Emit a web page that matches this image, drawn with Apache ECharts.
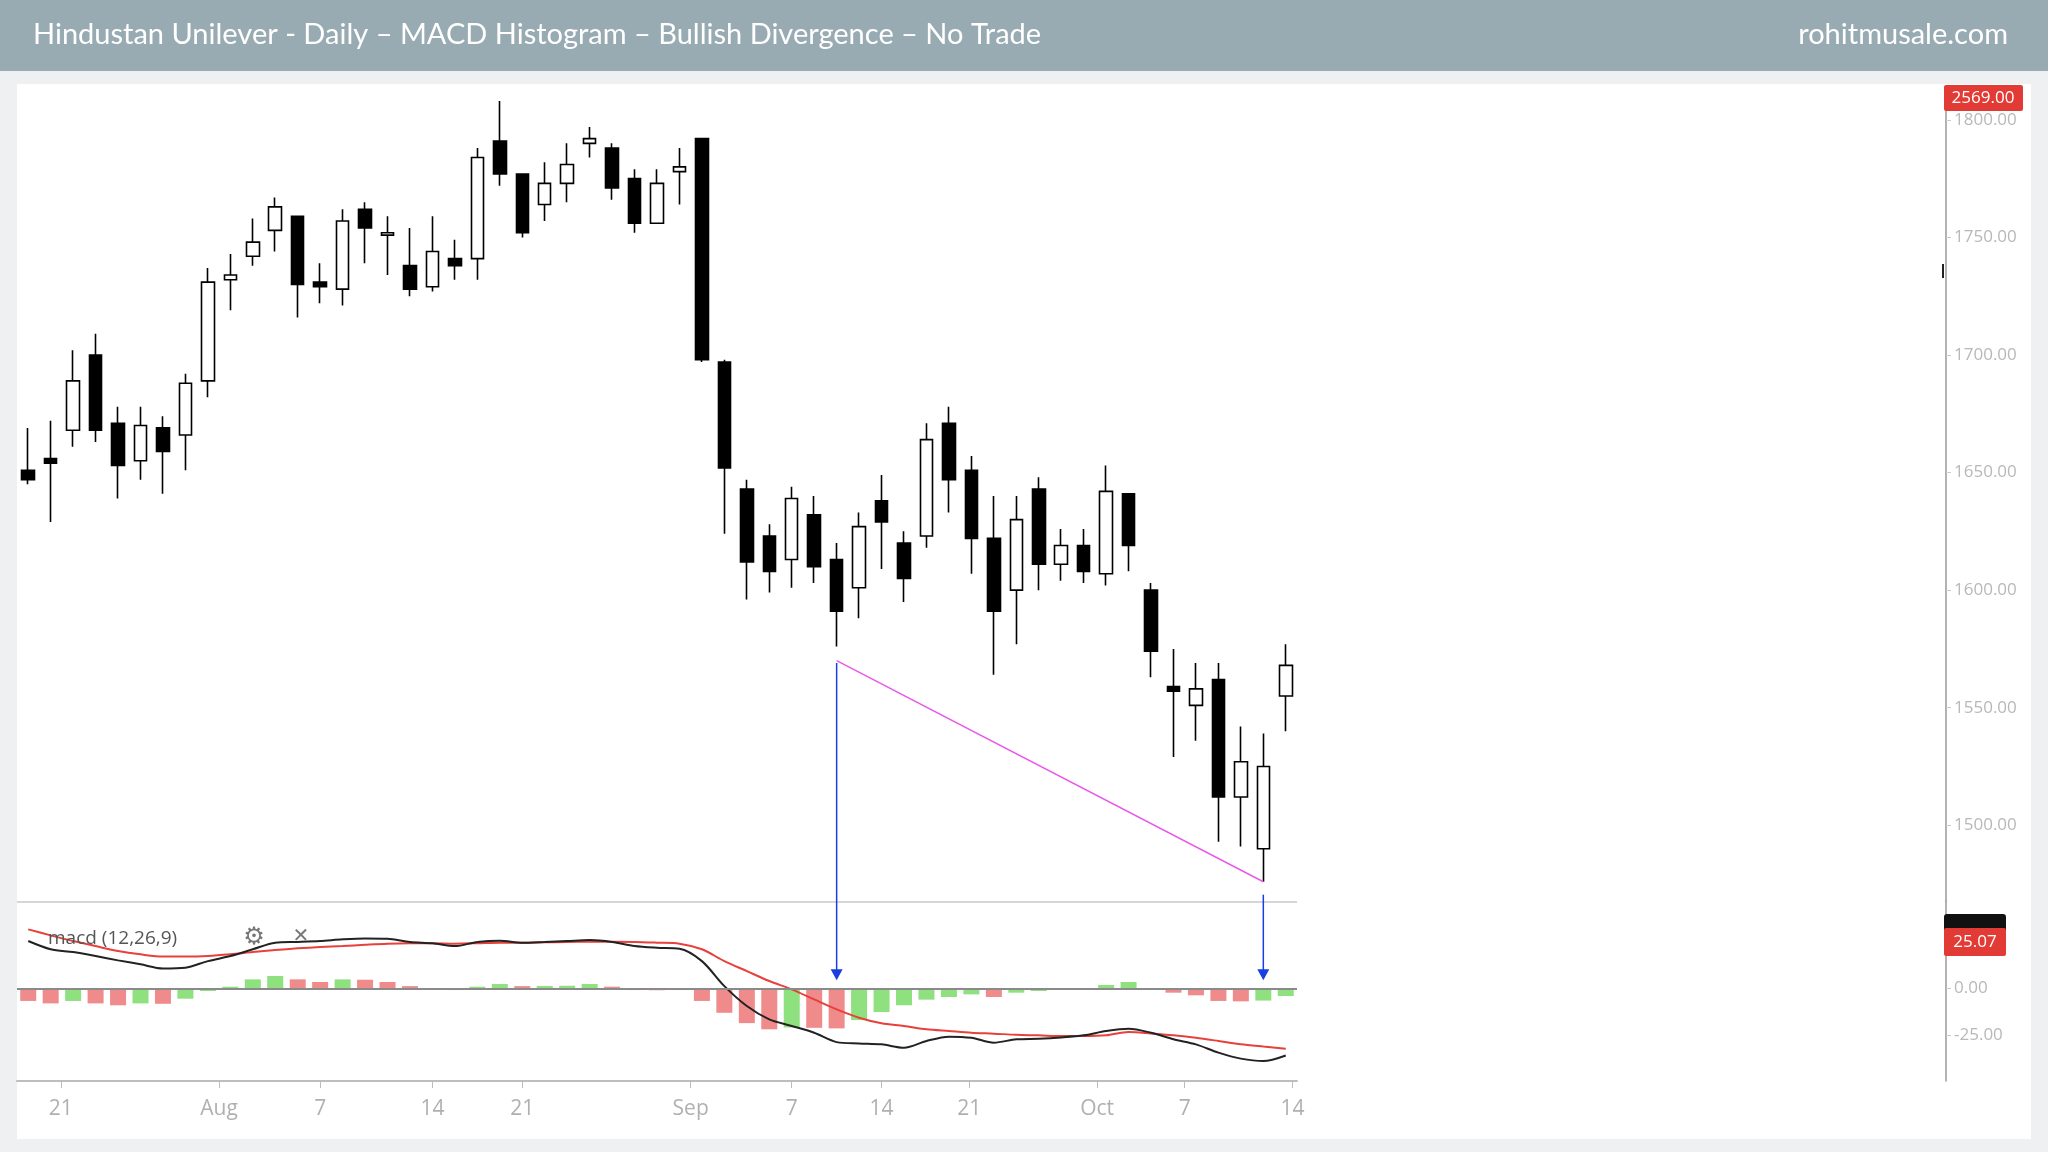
<!DOCTYPE html>
<html><head><meta charset="utf-8">
<script src="https://cdn.jsdelivr.net/npm/echarts@6/dist/echarts.min.js"></script>
<style>html,body{margin:0;padding:0;background:#eff0f2;}#c{width:2048px;height:1152px;}</style>
</head><body><div id="c"></div>
<script>
const opens  = [1651,1656,1668,1700,1671,1655,1669,1666,1689,1732,1742,1753,1759,1731,1728,1762,1751,1738,1729,1741,1741,1791,1777,1764,1773,1790,1788,1775,1756,1778,1792,1697,1643,1623,1613,1632,1613,1601,1638,1620,1623,1671,1651,1622,1600,1643,1611,1619,1607,1641,1600,1559,1551,1562,1512,1490,1555];
const closes = [1647,1654,1689,1668,1653,1670,1659,1688,1731,1734,1748,1763,1730,1729,1757,1754,1752,1728,1744,1738,1784,1777,1752,1773,1781,1792,1771,1756,1773,1780,1698,1652,1612,1608,1639,1610,1591,1627,1629,1605,1664,1647,1622,1591,1630,1611,1619,1608,1642,1619,1574,1557,1558,1512,1527,1525,1568];
const highs  = [1669,1672,1702,1709,1678,1678,1674,1692,1737,1743,1758,1767,1759,1739,1762,1765,1759,1754,1759,1749,1788,1808,1777,1782,1790,1797,1790,1779,1779,1788,1792,1698,1647,1628,1644,1640,1620,1633,1649,1625,1671,1678,1657,1640,1640,1648,1626,1626,1653,1641,1603,1575,1569,1569,1542,1539,1577];
const lows   = [1645,1629,1661,1663,1639,1647,1641,1651,1682,1719,1738,1744,1716,1722,1721,1739,1734,1725,1727,1732,1732,1772,1750,1757,1765,1784,1766,1752,1756,1764,1697,1624,1596,1599,1601,1603,1576,1588,1609,1595,1618,1633,1607,1564,1577,1600,1604,1603,1602,1608,1563,1529,1536,1493,1491,1476,1540];
const histVals = [-6.7,-8.0,-6.7,-8.0,-9.0,-8.0,-8.2,-5.5,-1.4,0.9,4.8,6.6,4.8,3.4,4.8,4.6,3.4,1.2,0.1,-0.9,0.9,2.3,1.2,1.3,1.4,2.3,0.9,-0.9,-1.0,-0.9,-6.7,-13.0,-18.5,-21.8,-20.8,-21.0,-21.3,-16.9,-12.6,-9.0,-6.0,-4.6,-3.2,-4.6,-2.3,-1.4,-0.2,-0.3,1.8,3.4,0.0,-2.3,-3.7,-6.7,-6.9,-6.5,-4.1];
const macdLine = [25.2,20.8,19.3,17.2,14.9,12.8,10.6,11.0,14.5,17.2,20.8,24.3,24.7,25.2,26.1,26.6,26.4,24.7,24.0,22.5,24.7,25.4,24.3,24.7,25.2,25.7,24.7,22.5,21.6,21.1,14.5,1.2,-9.4,-16.5,-20.0,-23.6,-28.6,-29.3,-29.8,-31.6,-28.0,-25.7,-26.3,-28.9,-27.1,-26.8,-26.1,-25.0,-22.7,-21.5,-23.6,-27.1,-29.8,-34.2,-37.4,-38.7,-35.7];
const signalLine = [31.4,28.2,25.2,22.5,19.9,18.1,16.9,16.9,17.2,18.1,19.3,20.4,21.3,22.0,22.5,23.2,23.8,24.0,24.0,23.8,24.0,24.3,24.3,24.5,24.7,24.8,24.8,24.7,24.3,23.8,20.8,14.5,9.2,3.9,-0.5,-5.9,-11.2,-15.6,-18.6,-20.0,-21.8,-22.7,-23.6,-24.1,-24.7,-25.0,-25.4,-25.4,-25.0,-23.2,-24.0,-25.0,-26.3,-28.0,-29.8,-31.0,-32.1];
const tickPos  = [1.45,8.5,13,18,22,29.5,34,38,41.9,47.6,51.5,56.3];
const tickText = ['21','Aug','7','14','21','Sep','7','14','21','Oct','7','14'];
const priceTicks = [1500,1550,1600,1650,1700,1750,1800];
const macdTicks = [0,-25];
const divergence = [[36,1570],[55,1476]];
const arrowTop = [[36,1569],[55,1470.5]];
const arrowBottomMacd = 4.9;

const cats = opens.map((_,i)=>String(i));
const ohlc = opens.map((o,i)=>[o,closes[i],lows[i],highs[i]]);
const histData = histVals.map((v,i)=>({value:v,itemStyle:{color:(i>0&&v>histVals[i-1])?'#8fe07f':'#f08b8b'}}));
const chart = echarts.init(document.getElementById('c'));
const option = {
  animation:false,
  backgroundColor:'#eff0f2',
  grid:[{left:17,width:1280,top:86,height:815},{left:17,width:1280,top:901,height:180}],
  xAxis:[
    {type:'category',data:cats,gridIndex:0,show:false,boundaryGap:true},
    {type:'category',data:cats,gridIndex:1,boundaryGap:true,axisLine:{show:false},axisTick:{show:false},axisLabel:{show:false}},
    {type:'value',gridIndex:1,min:-0.5,max:56.5,position:'bottom',splitLine:{show:false},
     axisLine:{show:true,onZero:false,lineStyle:{color:'#bdbdbd',width:2}},
     axisTick:{show:true,customValues:tickPos,length:7,lineStyle:{color:'#bdbdbd'}},
     axisLabel:{customValues:tickPos,color:'#b0b0b0',fontSize:21,fontFamily:'Open Sans',margin:18,
       formatter:v=>{const k=tickPos.findIndex(t=>Math.abs(t-v)<1e-6);return k>=0?tickText[k]:'';}}}
  ],
  yAxis:[
    {type:'value',gridIndex:0,min:1467.8,max:1814.4,position:'right',offset:649,splitLine:{show:false},
     axisLine:{show:true,onZero:false,lineStyle:{color:'#9a9a9a',width:1.5}},axisTick:{show:true,customValues:priceTicks,length:5,lineStyle:{color:'#ccc'}},
     axisLabel:{customValues:priceTicks,color:'#b8b8b8',fontSize:17,fontFamily:'Open Sans',margin:8,formatter:v=>v.toFixed(2)}},
    {type:'value',gridIndex:1,min:-49.3,max:46.5,position:'right',offset:649,splitLine:{show:false},
     axisLine:{show:true,onZero:false,lineStyle:{color:'#9a9a9a',width:1.5}},axisTick:{show:true,customValues:macdTicks,length:5,lineStyle:{color:'#ccc'}},
     axisLabel:{customValues:macdTicks,color:'#b8b8b8',fontSize:17,fontFamily:'Open Sans',margin:8,formatter:v=>v.toFixed(2)}}
  ],
  series:[
    {type:'candlestick',xAxisIndex:0,yAxisIndex:0,data:ohlc,barWidth:13,
     itemStyle:{color:'#ffffff',color0:'#000000',borderColor:'#000000',borderColor0:'#000000',borderWidth:1.6},
     markLine:{silent:true,symbol:'none',label:{show:false},lineStyle:{color:'#e85ae8',width:1.5,type:'solid'},
       data:[[{coord:divergence[0]},{coord:divergence[1]}]]}},
    {type:'bar',xAxisIndex:1,yAxisIndex:1,data:histData,barWidth:16,
     markLine:{silent:true,symbol:'none',label:{show:false},lineStyle:{color:'#8a8a8a',width:2,type:'solid'},data:[{yAxis:0}]}},
    {type:'line',xAxisIndex:1,yAxisIndex:1,data:signalLine,showSymbol:false,smooth:0.3,lineStyle:{color:'#e8403a',width:2}},
    {type:'line',xAxisIndex:1,yAxisIndex:1,data:macdLine,showSymbol:false,smooth:0.3,lineStyle:{color:'#222',width:2}}
  ]
};
chart.setOption(option);

const p1 = chart.convertToPixel({xAxisIndex:0,yAxisIndex:0},arrowTop[0]);
const p2 = chart.convertToPixel({xAxisIndex:0,yAxisIndex:0},arrowTop[1]);
const pb = chart.convertToPixel({xAxisIndex:1,yAxisIndex:1},[0,arrowBottomMacd]);
function arrow(p){return [
  {type:'line',shape:{x1:p[0],y1:p[1],x2:p[0],y2:pb[1]-8},style:{stroke:'#1a3fe0',lineWidth:1.5},z:100},
  {type:'polygon',shape:{points:[[p[0]-6,pb[1]-10],[p[0]+6,pb[1]-10],[p[0],pb[1]+1]]},style:{fill:'#1a3fe0'},z:100}];}
chart.setOption({graphic:[
  {type:'rect',shape:{x:17,y:84,width:2014,height:1055},style:{fill:'#ffffff'},z:-10},
  {type:'rect',shape:{x:0,y:0,width:2048,height:71},style:{fill:'#98aab2'},z:10},
  {type:'text',x:33,y:35,style:{text:'Hindustan Unilever - Daily – MACD Histogram – Bullish Divergence – No Trade',fill:'#ffffff',font:'29px Lato',textVerticalAlign:'middle'},z:11},
  {type:'text',x:2008,y:35,style:{text:'rohitmusale.com',fill:'#ffffff',font:'29px Lato',textAlign:'right',textVerticalAlign:'middle'},z:11},
  {type:'line',shape:{x1:17,y1:902,x2:1297,y2:902},style:{stroke:'#c8c8c8',lineWidth:1.5},z:5},
  {type:'text',x:48,y:939,style:{text:'macd (12,26,9)',fill:'#555',font:'19px Open Sans',textVerticalAlign:'middle'},z:20},
  {type:'text',x:254,y:938,style:{text:'⚙',fill:'#777',font:'24px DejaVu Sans',textAlign:'center',textVerticalAlign:'middle'},z:20},
  {type:'text',x:301,y:937,style:{text:'✕',fill:'#777',font:'20px DejaVu Sans',textAlign:'center',textVerticalAlign:'middle'},z:20},
  {type:'rect',shape:{x:1944,y:85,width:79,height:26,r:2},style:{fill:'#e23b35'},z:20},
  {type:'text',x:1983,y:98,style:{text:'2569.00',fill:'#fff',font:'17px Open Sans',textAlign:'center',textVerticalAlign:'middle'},z:21},
  {type:'rect',shape:{x:1944,y:914,width:62,height:24,r:3},style:{fill:'#111'},z:20},
  {type:'rect',shape:{x:1944,y:928,width:62,height:28,r:2},style:{fill:'#e23b35'},z:21},
  {type:'text',x:1975,y:942,style:{text:'25.07',fill:'#fff',font:'17px Open Sans',textAlign:'center',textVerticalAlign:'middle'},z:22},
  {type:'line',shape:{x1:1943,y1:264,x2:1943,y2:278},style:{stroke:'#222',lineWidth:2},z:20},
  ...arrow(p1),...arrow(p2)
]});
</script></body></html>
